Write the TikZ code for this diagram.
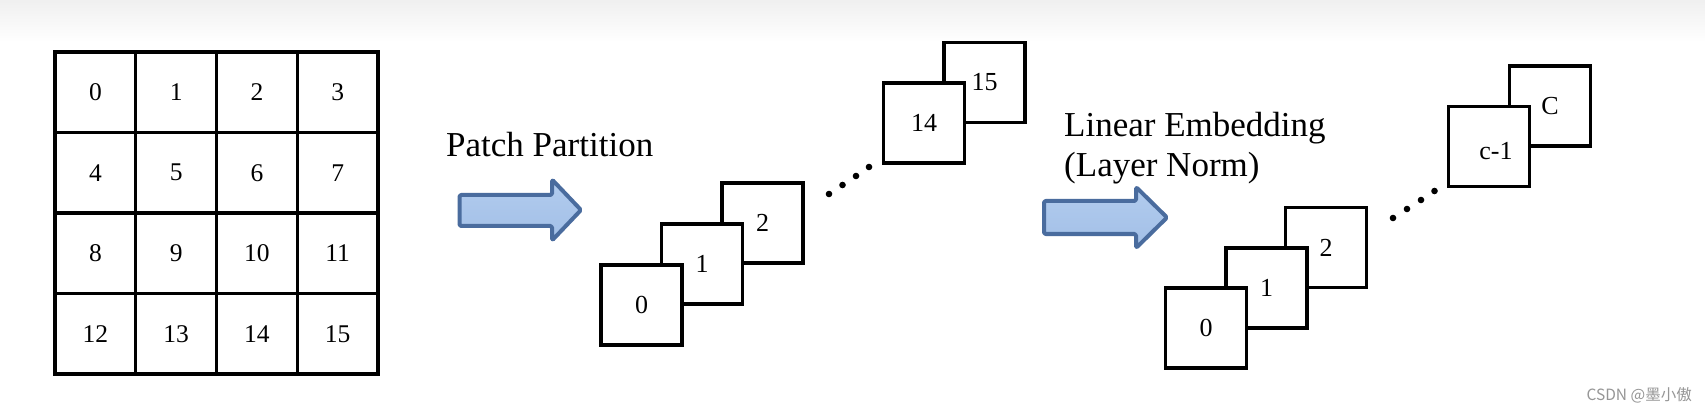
\documentclass[tikz,border=0pt]{standalone}
\usepackage{fontspec}
\setmainfont{Liberation Serif}
\newfontfamily\cjkfont{Noto Sans CJK SC}
\definecolor{arrowfill}{RGB}{162,191,231}
\definecolor{arrowfilltop}{RGB}{178,204,238}
\definecolor{arrowedge}{RGB}{74,108,158}
\definecolor{wmark}{RGB}{150,150,150}
\begin{document}
\begin{tikzpicture}[x=1pt,y=-1pt,
  cell/.style={draw=black, line width=3.2pt, minimum width=80.75pt, minimum height=80.5pt, inner sep=0pt,
    font=\fontsize{25.5}{28}\selectfont},
  pbox/.style={draw=black, fill=white, line width=3.2pt, minimum width=81pt, minimum height=80pt, inner sep=0pt,
    font=\fontsize{26}{28}\selectfont},
  blockarrow/.style={draw=arrowedge, line width=4pt, top color=arrowfilltop, bottom color=arrowfill, rounded corners=1.5pt, line join=round},
  caption/.style={anchor=base west, inner sep=0pt, font=\fontsize{35}{40}\selectfont},
  dotmark/.style={fill=black}
]
\useasboundingbox (0,0) rectangle (1705,414);
\fill[white] (0,0) rectangle (1705,414);
\shade[top color=black!6, bottom color=white] (0,0) rectangle (1705,42);

% grid 4x4
\foreach \r in {0,1,2,3}{
  \foreach \c in {0,1,2,3}{
    \pgfmathtruncatemacro{\n}{\r*4+\c}
    \node[cell] (g\n) at ({55+80.75*(\c+0.5)},{52+80.5*(\r+0.5)}) {\n};
  }
}

% arrow 1
\draw[blockarrow] (459.5,195) -- (552,195) -- (552,179.5) -- (581,210) -- (552,240.5) -- (552,226) -- (459.5,226) -- cycle;
\node[caption] (pp) at (446,157) {Patch Partition};

% stage 1 patches
\node[pbox] (a15) at (984.5,82.5) {15};
\node[pbox] (a14) at (924,123) {14};
\node[pbox] (a2) at (762.5,223) {2};
\node[pbox] (a1) at (702,264) {1};
\node[pbox] (a0) at (641.5,305) {0};
\foreach \p in {(829,194),(842.5,185),(856,176),(869,167)} \fill[dotmark] \p circle (3.3pt);

% arrow 2
\draw[blockarrow] (1044,201) -- (1136,201) -- (1136,187) -- (1167,217.5) -- (1136,248) -- (1136,234) -- (1044,234) -- cycle;
\node[caption] (le) at (1064,137) {Linear Embedding};
\node[caption] (ln) at (1064,177) {(Layer Norm)};

% stage 2 channels
\node[pbox] (bC) at (1550,106) {C};
\node[pbox] (bcm) at (1489,146.5) {};
\node[font=\fontsize{26}{28}\selectfont, inner sep=0pt] (bcmt) at (1496,151) {c-1};
\node[pbox] (b2) at (1326,247.5) {2};
\node[pbox] (b1) at (1266.5,288) {1};
\node[pbox] (b0) at (1206,328) {0};
\foreach \p in {(1393,218),(1407,209),(1421,200),(1434.5,191)} \fill[dotmark] \p circle (3.3pt);

% watermark
\node[anchor=east, inner sep=0pt, text=wmark, font=\cjkfont\fontsize{15.5}{18}\selectfont] (wm) at (1692,395) {CSDN @墨小傲};
\end{tikzpicture}
\end{document}
